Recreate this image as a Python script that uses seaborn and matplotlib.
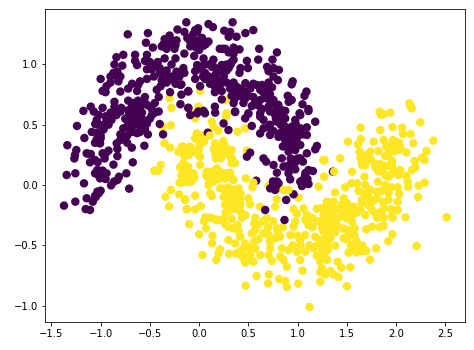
import matplotlib
matplotlib.use("Agg")
import matplotlib.pyplot as plt
import pandas as pd
import seaborn as sns

purple = [
(-0.13,1.35),(-0.725,1.25),(-0.52,1.26),(-0.22,1.29),(-0.15,1.27),(-0.54,1.18),(-0.35,1.21),(-0.28,1.20),(-0.23,1.20),(-0.24,1.16),
(-0.33,1.13),(-0.47,1.14),(-0.15,1.09),(-0.65,1.08),(-0.77,1.08),(-0.84,1.06),(-0.53,1.08),(-0.35,1.05),(-0.24,1.05),(-0.86,1.0),
(-0.78,0.99),(-0.63,0.995),(-0.50,1.02),(-0.43,0.99),(-0.53,0.96),(-0.28,1.0),(-0.33,0.95),(-0.16,0.97),(-0.23,0.94),(-0.15,0.93),
(-0.85,0.91),(-0.90,0.90),(-0.80,0.90),(-1.0,0.88),(-0.40,0.93),(-0.46,0.90),(-0.35,0.90),(-0.31,0.87),(-0.53,0.88),(-0.60,0.86),
(-0.68,0.84),(-0.82,0.86),(-0.24,0.84),(-0.19,0.83),(-0.62,0.83),(-0.94,0.82),(-0.80,0.775),(-0.72,0.80),(-0.63,0.78),(-0.43,0.79),
(-0.39,0.82),(-0.95,0.77),(-0.98,0.78),(-0.41,0.73),(-0.295,0.77),(-0.18,0.75),(-0.11,0.78),(-0.55,0.73),(-0.72,0.70),(-0.62,0.70),
(-0.86,0.69),(-0.45,0.68),(-0.58,0.665),(-0.67,0.68),(-0.19,0.67),(-0.11,0.64),(-1.10,0.65),(-1.175,0.615),(-0.98,0.64),(-0.86,0.65),
(-1.07,0.61),(-0.79,0.64),(-0.72,0.62),(-0.60,0.615),(-0.41,0.61),(-0.48,0.58),
(0.095,1.335),(0.14,1.31),(0.34,1.35),(-0.01,1.30),(-0.04,1.285),(0.255,1.28),(0.315,1.27),(0.55,1.285),(0.47,1.26),(0.30,1.23),
(0.38,1.23),(-0.06,1.25),(-0.06,1.21),(0.03,1.22),(0.095,1.19),(-0.09,1.19),(-0.02,1.17),(0.045,1.155),(-0.09,1.15),(0.21,1.13),
(0.265,1.13),(0.35,1.14),(0.41,1.125),(0.61,1.13),(0.79,1.10),(-0.05,1.07),(0.35,1.09),(0.045,1.05),(0.145,1.04),(0.35,1.04),
(0.485,1.03),(0.60,1.04),(0.745,1.04),(-0.02,0.995),(0.045,0.995),(0.23,0.995),(0.28,1.0),(0.13,0.98),(0.42,0.97),(0.495,0.97),
(0.69,0.98),(0.755,0.97),(-0.04,0.945),(0.21,0.94),(0.06,0.93),(0.41,0.93),(0.705,0.945),(0.81,0.955),(0.25,0.90),(0.755,0.90),
(-0.04,0.88),(0.06,0.88),(0.18,0.87),(0.80,0.87),(0.11,0.84),(0.28,0.85),(0.95,0.86),(0.94,0.835),(0.705,0.85),(-0.18,0.835),
(0.01,0.82),(0.16,0.815),(0.38,0.815),(0.47,0.845),(0.585,0.83),(0.64,0.83),(0.315,0.80),(0.52,0.80),(0.74,0.81),(-0.11,0.775),
(0.16,0.77),(0.23,0.78),(0.365,0.77),(0.47,0.77),(0.65,0.77),(1.09,0.775),(1.07,0.74),(0.23,0.71),(0.365,0.72),(0.50,0.74),
(0.72,0.75),(0.90,0.74),(0.94,0.705),(0.91,0.69),(0.62,0.705),(0.57,0.69),(0.755,0.705),(0.35,0.68),(0.45,0.68),(1.05,0.67),
(0.535,0.655),(0.705,0.65),(0.805,0.665),(1.11,0.63),(-0.11,0.64),(0.045,0.615),(0.16,0.65),(0.365,0.61),(0.50,0.595),(0.62,0.595),
(0.79,0.61),(0.875,0.615),(1.02,0.595),(-0.02,0.595),(0.06,0.595),
(-0.84,0.58),(-0.80,0.61),(-0.70,0.61),(-0.65,0.59),(-0.45,0.60),(-1.24,0.49),(-1.04,0.54),(-1.055,0.506),(-0.94,0.54),(-0.97,0.50),
(-0.89,0.54),(-0.735,0.54),(-0.72,0.50),(-0.77,0.47),(-0.63,0.525),(-0.50,0.55),(-0.53,0.51),(-0.40,0.506),(-0.695,0.456),(-1.09,0.44),
(-1.04,0.434),(-0.97,0.46),(-0.60,0.44),(-0.52,0.42),(-0.63,0.43),(-0.366,0.42),(-1.165,0.39),(-1.04,0.38),(-1.0,0.387),(-1.057,0.35),
(-1.006,0.345),(-0.80,0.373),(-0.837,0.345),(-0.73,0.35),(-1.338,0.33),(-0.556,0.326),(-0.83,0.30),(-0.684,0.31),(-1.247,0.29),(-0.92,0.285),
(-1.142,0.263),(-1.10,0.257),(-0.98,0.263),(-1.26,0.25),(-1.267,0.22),(-0.83,0.24),(-0.96,0.22),(-1.057,0.207),(-1.108,0.188),(-0.674,0.188),
(-0.87,0.169),(-1.033,0.125),(-1.057,0.097),(-0.94,0.097),(-0.972,0.075),(-0.739,0.097),(-1.345,0.083),(-1.257,0.097),(-1.006,0.055),(-0.813,0.069),
(-0.83,0.042),(-0.864,0.028),(-0.894,-0.003),(-1.169,0.014),(-0.71,-0.03),(-1.0,-0.047),(-1.033,-0.055),(-1.057,-0.09),(-1.142,-0.11),(-1.08,-0.138),
(-1.257,-0.138),(-1.372,-0.171),(-1.152,-0.2),(-1.108,-0.207),
(-0.09,0.58),(-0.007,0.61),(0.163,0.60),(0.366,0.605),(0.50,0.59),(0.468,0.553),(0.62,0.567),(0.654,0.54),(0.773,0.58),(0.823,0.594),
(0.874,0.553),(0.79,0.525),(1.027,0.58),(1.11,0.614),(0.976,0.54),(1.179,0.525),(0.248,0.511),(0.298,0.456),(0.535,0.49),(0.857,0.498),
(0.942,0.484),(1.094,0.478),(0.654,0.47),(0.993,0.45),(0.62,0.428),(0.72,0.415),(0.806,0.40),(1.094,0.415),(0.874,0.373),(0.993,0.387),
(0.959,0.346),(1.027,0.332),(1.196,0.324),(1.179,0.296),(0.908,0.277),(0.976,0.29),(1.094,0.263),(0.518,0.268),(0.485,0.235),(0.654,0.221),
(0.68,0.194),(0.84,0.221),(1.027,0.221),(1.054,0.194),(0.942,0.194),(0.756,0.166),(0.857,0.152),(0.976,0.13),(1.111,0.124),(1.155,0.116),
(0.79,0.102),(0.908,0.097),(1.077,0.083),(0.925,0.047),(1.027,0.028),(1.111,0.008),(1.044,-0.008),(0.58,0.036),(0.806,0.014),(0.756,0.0),
(0.722,-0.028),(0.772,-0.041),(0.959,-0.077),(0.884,-0.124),(0.671,-0.207),(0.867,-0.29),(0.088,0.434),(1.359,0.111),
]
purple_dense = [
(-0.4,0.97),(-0.37,0.92),(-0.33,0.85),(-0.28,0.9),(-0.25,0.88),(-0.2,0.9),(-0.38,0.87),(-0.65,1.03),(-0.55,1.03),(-0.5,0.98),
(-0.48,0.96),(-0.42,1.02),(-0.83,0.94),(-0.87,0.93),(-0.82,0.88),(-0.9,0.85),(-0.68,0.66),(-0.63,0.65),(-0.55,0.68),(-0.62,0.62),
(-0.58,0.6),(-0.52,0.66),(-0.48,0.63),(-0.38,1.15),(-0.3,1.17),(-0.25,1.13),(-0.3,1.24),(-0.36,1.17),(-0.75,0.55),(-0.68,0.56),
(-0.65,0.5),(-0.6,0.49),(-0.7,0.5),(-0.68,0.44),(-0.62,0.58),(-0.58,0.55),(-0.55,0.47),(-0.73,0.41),(-0.8,0.42),(-0.77,0.38),
(-0.72,0.57),(-1.02,0.50),(-0.92,0.5),(-1.0,0.41),(-0.95,0.57),(-1.02,0.58),(-0.85,0.62),(-0.9,0.6),(-1.0,0.1),(-1.02,0.08),
(-0.98,0.12),(-1.05,-0.1),(-1.02,-0.07),(-0.95,0.05),(-1.03,0.19),(-1.13,0.26),(-0.95,0.26),(-0.02,1.27),(0.0,1.2),(-0.03,1.14),
(0.0,1.12),(0.07,1.17),(-0.12,1.22),(0.3,1.1),(0.33,1.02),(0.3,0.97),(0.28,0.95),(0.24,1.13),(0.32,1.0),(0.0,0.96),
(0.1,1.0),(0.15,0.98),(0.18,0.96),(0.04,0.9),(0.1,0.9),(0.17,0.92),(0.13,0.86),(0.22,0.84),(0.2,0.8),(0.35,0.85),
(0.42,0.8),(0.45,0.78),(0.55,0.84),(0.62,0.79),(0.42,0.74),(0.33,0.74),(0.47,0.72),(0.55,0.73),(0.69,0.8),(0.72,0.7),
(0.68,0.72),(0.78,0.66),(0.6,0.66),(0.64,0.63),(0.72,0.61),(0.84,0.62),(0.78,0.55),(0.83,0.5),(0.88,0.48),(0.82,0.55),
(0.9,0.43),(0.95,0.42),(0.87,0.41),(0.92,0.37),(0.85,0.32),(0.9,0.33),(0.95,0.3),(0.87,0.45),(0.72,0.5),(0.75,0.45),
(0.7,0.48),(0.82,0.43),(0.98,0.51),(1.03,0.47),(1.05,0.42),(0.95,0.15),(0.9,0.16),(0.93,0.22),(1.0,0.22),(1.08,0.1),
(1.1,0.05),(1.05,0.04),(0.98,0.19),(0.75,0.03),(0.8,-0.02),(0.79,0.03),(0.74,-0.02),
]
yellow = [
(-0.30,0.72),(-0.28,0.64),(0.01,0.78),(0.265,0.705),(-0.007,0.65),(0.28,0.595),(-0.075,0.595),
(-0.288,0.495),(-0.37,0.484),(-0.352,0.346),(-0.295,0.31),(-0.176,0.318),(-0.21,0.277),(-0.125,0.304),(-0.142,0.249),(-0.39,0.166),
(-0.413,0.119),(-0.454,0.119),(-0.16,0.18),(-0.193,0.146),(-0.11,0.152),(-0.16,0.055),(-0.125,0.083),(-0.20,0.02),(-0.285,-0.041),(-0.342,-0.097),
(-0.203,-0.077),(-0.142,-0.119),(-0.305,-0.177),(-0.125,-0.2),(-0.11,0.028),
(-0.04,0.553),(0.274,0.567),(0.129,0.525),(0.146,0.484),(0.197,0.45),(0.39,0.442),(0.468,0.47),(-0.024,0.428),(-0.04,0.387),(0.044,0.387),
(0.01,0.36),(0.247,0.368),(0.163,0.346),(0.264,0.323),(0.213,0.318),(-0.159,0.318),(-0.091,0.318),(-0.007,0.29),(0.332,0.29),(0.163,0.263),
(0.23,0.257),(-0.108,0.249),(0.01,0.235),(0.332,0.221),(1.264,0.207),(0.485,0.285),(-0.159,0.18),(0.01,0.166),(0.366,0.18),(-0.176,0.152),
(0.18,0.138),(0.078,0.11),(-0.057,0.097),(0.213,0.11),(0.315,0.102),(-0.159,0.055),(-0.091,0.069),(0.095,0.055),(0.163,0.055),(0.264,0.055),
(0.349,0.042),(0.475,0.055),(-0.125,0.028),(0.095,0.0),(0.542,-0.019),(1.27,0.069),(0.705,-0.008),(0.213,-0.028),(0.40,-0.028),(0.315,-0.055),
(0.112,-0.069),(1.213,-0.014),(-0.04,-0.088),(0.264,-0.083),(0.366,-0.083),(0.129,-0.091),(-0.142,-0.124),(0.315,-0.124),(0.417,-0.11),(0.789,-0.119),
(1.01,-0.105),(1.298,-0.144),(0.501,-0.11),(0.264,-0.166),(0.366,-0.166),(0.518,-0.16),(0.62,-0.18),(0.772,-0.18),(-0.125,-0.202),(-0.04,-0.202),
(0.017,-0.174),(0.959,-0.2),(1.06,-0.193),(1.196,-0.196),(0.315,-0.207),(0.383,-0.2),(0.993,-0.24),(1.094,-0.249),(1.264,-0.249),(0.569,-0.271),
(0.061,-0.268),(0.163,-0.284),(0.247,-0.284),
(2.134,0.677),(2.16,0.636),(2.15,0.65),(1.833,0.608),(1.874,0.589),(1.941,0.6),(1.847,0.581),(2.246,0.52),(1.64,0.476),(1.84,0.456),
(1.965,0.481),(2.06,0.476),(2.07,0.423),(2.148,0.423),(1.643,0.382),(1.511,0.36),(1.772,0.36),(1.874,0.373),(1.968,0.373),(2.378,0.368),
(2.175,0.346),(1.613,0.337),(1.992,0.332),(2.043,0.313),(1.958,0.304),(1.823,0.282),(1.738,0.277),(1.63,0.277),(2.104,0.271),(2.31,0.282),
(1.924,0.263),(2.026,0.29),(1.704,0.249),(1.89,0.24),(2.263,0.227),(1.637,0.227),(1.738,0.216),(1.433,0.221),(1.274,0.205),(2.29,0.208),
(2.189,0.199),(1.958,0.202),(1.653,0.166),(1.687,0.166),(1.84,0.174),(1.958,0.166),(1.789,0.147),(2.195,0.147),(2.043,0.125),(2.162,0.125),
(1.552,0.111),(1.823,0.111),(1.891,0.083),(1.958,0.097),(1.68,0.069),(2.026,0.083),(2.104,0.075),(1.924,0.069),(2.118,0.028),(1.816,0.028),
(1.545,0.014),(1.603,0.014),(1.891,0.0),(2.29,0.02),(1.687,0.0),(1.484,-0.019),(2.229,-0.005),(2.121,-0.014),(2.016,-0.019),(1.738,-0.041),
(1.806,-0.055),(1.382,-0.063),(1.68,-0.069),(1.924,-0.069),(2.033,-0.074),(2.223,-0.1),(1.298,-0.138),(1.467,-0.11),(1.653,-0.124),(1.806,-0.11),
(1.924,-0.124),(2.016,-0.138),(1.366,-0.138),(1.247,-0.193),(1.332,-0.18),(1.569,-0.18),(1.721,-0.166),(1.874,-0.193),(2.016,-0.207),(1.484,-0.193),
(1.637,-0.207),(1.772,-0.22),(1.467,-0.235),(1.552,-0.249),(1.687,-0.249),(1.958,-0.257),(2.094,-0.268),(2.514,-0.268),(1.823,-0.268),
(1.332,-0.29),(1.382,-0.304),(1.501,-0.277),(1.552,-0.304),(1.806,-0.271),(1.874,-0.271),(1.965,-0.271),(1.247,-0.318),(1.298,-0.332),(1.874,-0.337),
(1.833,-0.351),(1.755,-0.346),(1.697,-0.368),(1.46,-0.36),(1.382,-0.393),(1.281,-0.387),(1.518,-0.415),(1.579,-0.42),(1.467,-0.442),(1.962,-0.409),
(1.921,-0.467),(1.281,-0.456),(1.382,-0.503),(1.542,-0.498),(1.66,-0.503),(1.298,-0.498),(1.796,-0.525),(2.209,-0.506),(1.305,-0.539),(1.697,-0.547),
(1.518,-0.561),(1.596,-0.559),(1.735,-0.619),(1.406,-0.636),(1.23,-0.636),(1.535,-0.683),(1.443,-0.686),(1.247,-0.691),(1.332,-0.713),(1.366,-0.741),
(1.416,-0.763),(1.281,-0.741),(1.23,-0.802),(1.501,-0.84),
(-0.101,-0.324),(0.078,-0.277),(0.23,-0.29),(0.18,-0.29),(0.264,-0.326),(0.071,-0.36),(0.349,-0.36),(0.39,-0.332),(0.434,-0.271),(0.559,-0.318),
(0.688,-0.277),(0.654,-0.299),(0.569,-0.373),(0.789,-0.36),(0.976,-0.304),(0.959,-0.346),(1.077,-0.29),(1.145,-0.271),(1.111,-0.332),(1.264,-0.387),
(0.0,-0.409),(0.136,-0.42),(0.298,-0.456),(0.417,-0.429),(0.535,-0.401),(0.705,-0.415),(0.823,-0.429),(0.925,-0.415),(1.027,-0.456),(1.077,-0.415),
(0.132,-0.484),(0.366,-0.484),(0.468,-0.484),(0.559,-0.47),(0.772,-0.442),(1.179,-0.429),(1.23,-0.456),(0.45,-0.525),(0.569,-0.525),(0.722,-0.525),
(0.84,-0.525),(0.908,-0.539),(0.213,-0.534),(0.993,-0.553),(1.077,-0.553),(1.162,-0.525),(0.034,-0.581),(0.197,-0.567),(0.305,-0.572),(0.376,-0.567),
(0.62,-0.581),(0.705,-0.581),(0.823,-0.594),(0.518,-0.581),(0.468,-0.594),(1.196,-0.586),(1.027,-0.622),(0.173,-0.622),(0.468,-0.644),(0.552,-0.636),
(0.739,-0.63),(0.857,-0.622),(0.891,-0.677),(1.05,-0.71),(1.23,-0.724),(0.583,-0.755),(0.708,-0.741),(0.813,-0.78),(0.874,-0.796),(0.701,-0.816),
(1.006,-0.818),(0.471,-0.835),(0.891,-0.846),(1.121,-1.012),
]
yellow_dense = [
(0.6,-0.33),(0.7,-0.35),(0.75,-0.3),(0.8,-0.4),(0.65,-0.4),(0.6,-0.45),(0.72,-0.47),(0.85,-0.35),(0.05,-0.3),(0.12,-0.27),
(1.15,-0.35),(1.2,-0.3),(1.25,-0.33),(1.28,-0.5),(1.25,-0.55),(1.2,-0.5),(1.3,-0.42),(1.32,-0.45),(1.27,-0.6),(1.3,-0.62),
(1.0,-0.42),(1.03,-0.5),(1.12,-0.5),(0.95,-0.5),(0.42,-0.55),(0.5,-0.62),(0.44,-0.6),(0.5,-0.52),(0.27,-0.23),(0.33,-0.28),
(0.42,-0.22),(0.47,-0.25),(0.3,-0.35),(0.4,-0.38),(-0.13,0.28),(-0.07,0.28),(-0.02,0.26),(-0.15,0.24),(0.15,0.30),(0.2,0.27),
(0.25,0.29),(0.17,0.22),(0.22,0.22),(0.3,0.25),(0.33,0.18),(-0.15,0.1),(-0.1,0.1),(-0.18,0.08),(-0.08,0.03),(-0.05,0.06),
(-0.17,0.02),(0.07,0.08),(0.12,0.09),(0.17,0.09),(0.24,0.08),(0.28,0.1),(0.32,0.07),(0.15,0.03),(0.2,0.05),(0.13,0.11),
(0.25,-0.03),(0.3,-0.02),(0.35,-0.04),(0.25,-0.1),(0.3,-0.1),(0.35,-0.12),(0.42,-0.07),(0.28,-0.15),(0.33,-0.17),(0.42,-0.16),
(0.38,-0.13),(0.02,0.41),(0.05,0.36),(-0.02,0.38),(0.0,0.32),(1.62,-0.05),(1.72,-0.1),(1.77,-0.13),(1.85,-0.05),(1.87,-0.14),
(1.75,-0.2),(1.85,-0.22),(1.95,-0.2),(1.65,-0.15),(1.6,-0.23),(1.9,-0.03),(1.95,-0.02),(1.3,-0.22),(1.4,-0.2),(1.45,-0.16),
(1.52,-0.22),(1.35,-0.25),(1.42,-0.27),(1.27,-0.27),(1.5,-0.15),(1.95,0.34),(2.0,0.36),(2.03,0.35),(1.9,0.32),(1.98,0.28),
(1.87,0.16),(1.92,0.16),(1.86,0.12),(1.97,0.13),(1.78,0.18),(1.82,0.14),(1.65,0.2),(1.25,-0.36),(1.3,-0.41),(1.35,-0.36),
(1.33,-0.44),(1.28,-0.37),(1.4,-0.34),(1.5,-0.37),(1.55,-0.38),(1.5,-0.45),(1.58,-0.36),(1.55,-0.53),(1.62,-0.52),(1.6,-0.47),
(1.65,-0.55),(1.3,-0.3),(1.35,-0.27),(1.4,-0.28),
]
yellow_over = [(1.372,0.111),(1.27,0.069),(0.108,0.41),(0.55,0.02),(0.908,-0.041),(0.857,-0.041),(1.264,0.207)]

points = [(x, y, 0) for x, y in yellow + yellow_dense]
points += [(x, y, 1) for x, y in purple + purple_dense]
points += [(x, y, 0) for x, y in yellow_over]
df = pd.DataFrame(points, columns=["x", "y", "label"])

fig = plt.figure(figsize=(474 / 72, 350 / 72), dpi=72)
ax = fig.add_axes([45 / 474, 1 - 321.6 / 350, 420 / 474, 312.6 / 350])
viridis = {1: "#440154", 0: "#fde725"}
sns.scatterplot(data=df, x="x", y="y", hue="label", palette=viridis, s=48,
                linewidth=1.5, edgecolor="face", legend=False, ax=ax)
ax.set_xlim(-1.565, 2.70)
ax.set_ylim(-1.133, 1.46)
ax.set_xticks([-1.5, -1.0, -0.5, 0.0, 0.5, 1.0, 1.5, 2.0, 2.5])
ax.set_yticks([-1.0, -0.5, 0.0, 0.5, 1.0])
ax.set_xlabel("")
ax.set_ylabel("")
fig.savefig("out.png", dpi=72)
